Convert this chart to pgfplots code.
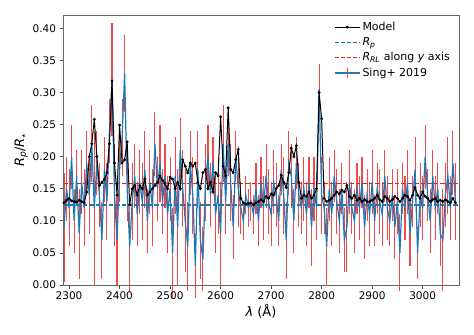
\documentclass[border=0pt]{standalone}
\usepackage{pgfplots}
\pgfplotsset{compat=1.18}
\usepackage{pgfplotstable}
\usepackage{fontspec}
\setmainfont{DejaVu Sans}
\definecolor{cblue}{RGB}{31,119,180}
\definecolor{rlred}{RGB}{228,30,32}
\definecolor{ered}{RGB}{242,74,74}
\pgfplotsset{
  singleg/.style={legend image code/.code={
    \draw[cblue, line width=1.4pt] (0pt,0pt) -- (25pt,0pt);
    \draw[ered, line width=1.4pt] (12.5pt,-5pt) -- (12.5pt,5pt);}},
  rpleg/.style={legend image code/.code={
    \draw[cblue, line width=1.4pt, dash pattern=on 4pt off 2pt] (0pt,0pt) -- (25pt,0pt);}},
  rlleg/.style={legend image code/.code={
    \draw[rlred, line width=1.4pt, dash pattern=on 4pt off 2pt] (0pt,0pt) -- (25pt,0pt);}},
}
\pgfplotstableread{
x m d e
2290 0.128 0.09 0.085
2295 0.132 0.15 0.05
2300 0.135 0.12 0.06
2305 0.131 0.20 0.05
2310 0.130 0.10 0.05
2315 0.129 0.17 0.04
2320 0.132 0.08 0.07
2325 0.130 0.16 0.05
2330 0.128 0.12 0.06
2335 0.145 0.19 0.05
2340 0.200 0.14 0.06
2345 0.220 0.22 0.06
2350 0.258 0.12 0.12
2355 0.200 0.19 0.05
2360 0.155 0.14 0.05
2365 0.160 0.07 0.06
2370 0.165 0.18 0.05
2375 0.175 0.13 0.06
2380 0.220 0.24 0.05
2385 0.318 0.32 0.088
2390 0.190 0.14 0.08
2395 0.140 0.07 0.07
2400 0.249 0.18 0.05
2405 0.190 0.23 0.06
2410 0.195 0.33 0.06
2415 0.223 0.15 0.05
2420 0.125 0.06 0.07
2425 0.150 0.13 0.06
2430 0.155 0.17 0.05
2435 0.140 0.11 0.05
2440 0.155 0.16 0.05
2445 0.150 0.13 0.06
2450 0.165 0.18 0.06
2455 0.140 0.10 0.05
2460 0.145 0.16 0.05
2465 0.150 0.12 0.06
2470 0.155 0.22 0.05
2475 0.160 0.15 0.05
2480 0.170 0.19 0.06
2485 0.163 0.13 0.05
2490 0.158 0.17 0.05
2495 0.150 0.11 0.06
2500 0.168 0.15 0.05
2505 0.165 0.05 0.07
2510 0.150 0.17 0.06
2515 0.160 0.09 0.09
2520 0.150 0.21 0.05
2525 0.195 0.15 0.06
2530 0.185 0.10 0.08
2535 0.175 0.06 0.07
2540 0.190 0.19 0.05
2545 0.185 0.14 0.06
2550 0.190 0.03 0.05
2555 0.160 0.18 0.06
2560 0.150 0.07 0.06
2565 0.175 0.04 0.05
2570 0.180 0.16 0.06
2575 0.150 0.20 0.05
2580 0.160 0.14 0.05
2585 0.145 0.19 0.04
2590 0.175 0.11 0.06
2595 0.170 0.14 0.06
2600 0.262 0.08 0.08
2605 0.185 0.22 0.06
2610 0.170 0.13 0.05
2615 0.276 0.22 0.05
2620 0.180 0.16 0.06
2625 0.175 0.09 0.05
2630 0.195 0.20 0.04
2635 0.211 0.15 0.06
2640 0.135 0.12 0.04
2645 0.128 0.10 0.03
2650 0.126 0.14 0.03
2655 0.127 0.12 0.03
2660 0.128 0.13 0.03
2665 0.125 0.11 0.03
2670 0.128 0.15 0.04
2675 0.130 0.10 0.04
2680 0.133 0.16 0.04
2685 0.130 0.12 0.05
2690 0.138 0.17 0.05
2695 0.135 0.13 0.05
2700 0.142 0.11 0.05
2705 0.140 0.16 0.05
2710 0.150 0.14 0.05
2715 0.155 0.10 0.04
2720 0.171 0.18 0.04
2725 0.160 0.14 0.06
2730 0.152 0.07 0.06
2735 0.175 0.19 0.05
2740 0.213 0.17 0.05
2745 0.200 0.10 0.05
2750 0.217 0.19 0.04
2755 0.160 0.14 0.05
2760 0.135 0.12 0.04
2765 0.140 0.15 0.05
2770 0.138 0.11 0.05
2775 0.145 0.16 0.04
2780 0.135 0.09 0.06
2785 0.140 0.15 0.05
2790 0.150 0.12 0.05
2795 0.300 0.305 0.04
2800 0.259 0.14 0.06
2805 0.135 0.12 0.04
2810 0.130 0.06 0.06
2815 0.132 0.15 0.05
2820 0.135 0.11 0.05
2825 0.140 0.17 0.04
2830 0.145 0.13 0.05
2835 0.142 0.10 0.05
2840 0.148 0.15 0.04
2845 0.145 0.07 0.05
2850 0.155 0.09 0.07
2855 0.138 0.16 0.05
2860 0.135 0.12 0.04
2865 0.140 0.10 0.05
2870 0.132 0.15 0.04
2875 0.135 0.12 0.05
2880 0.130 0.16 0.04
2885 0.133 0.09 0.05
2890 0.130 0.14 0.04
2895 0.130 0.11 0.05
2900 0.132 0.16 0.05
2905 0.135 0.10 0.04
2910 0.140 0.15 0.04
2915 0.133 0.13 0.05
2920 0.130 0.11 0.05
2925 0.138 0.17 0.04
2930 0.135 0.12 0.05
2935 0.130 0.10 0.04
2940 0.133 0.14 0.04
2945 0.138 0.09 0.05
2950 0.135 0.13 0.05
2955 0.130 0.05 0.06
2960 0.135 0.15 0.04
2965 0.140 0.12 0.05
2970 0.138 0.16 0.05
2975 0.132 0.08 0.05
2980 0.140 0.13 0.04
2985 0.152 0.18 0.05
2990 0.140 0.05 0.04
2995 0.135 0.14 0.05
3000 0.145 0.12 0.05
3005 0.138 0.20 0.05
3010 0.135 0.14 0.04
3015 0.130 0.10 0.05
3020 0.133 0.17 0.04
3025 0.135 0.12 0.05
3030 0.130 0.15 0.04
3035 0.132 0.08 0.05
3040 0.130 0.07 0.08
3045 0.133 0.14 0.05
3050 0.130 0.17 0.06
3055 0.128 0.12 0.05
3060 0.135 0.19 0.05
3065 0.128 0.13 0.06
}\spec
\begin{document}
\begin{tikzpicture}
\begin{axis}[
  name=ax,
  set layers,
  scale only axis,
  width=396pt, height=270pt,
  xmin=2288, xmax=3072,
  ymin=0, ymax=0.4206,
  xtick={2300,2400,...,3000},
  ytick={0,0.05,...,0.41},
  tick align=outside,
  xtick pos=bottom, ytick pos=left,
  major tick length=3.5pt,
  every tick/.style={black!70, line width=0.8pt},
  axis line style={black!60, line width=0.8pt},
  /pgf/number format/assume math mode=true,
  /pgf/number format/1000 sep={},
  yticklabel style={/pgf/number format/fixed, /pgf/number format/fixed zerofill, /pgf/number format/precision=2},
  tick label style={font=\fontsize{10.5}{12}\selectfont},
  label style={font=\fontsize{13}{15}\selectfont},
  xlabel={{\itshape λ} (Å)},
  ylabel={{\itshape R}\textsubscript{\itshape p}/{\itshape R}\textsubscript{$\star$}},
  xlabel style={yshift=2pt},
  ylabel style={yshift=-2pt},
  legend style={draw=none, fill=none, at={(1,1)}, anchor=north east, xshift=-4pt, yshift=-3pt,
    font=\fontsize{11}{13}\selectfont, row sep=1.5pt, cells={anchor=west}},
  legend cell align=left,
  legend image code/.code={\draw[mark repeat=2, mark phase=2, #1] plot coordinates {(0pt,0pt) (12.5pt,0pt) (25pt,0pt)};},
]
\addplot[black, line width=1pt, mark=*, mark size=0.9pt, on layer=axis foreground] table[x=x, y=m] {\spec};
\addlegendentry{Model}
\addplot[cblue, line width=1.2pt, dash pattern=on 4.5pt off 2pt, rpleg] coordinates {(2288,0.1246) (3072,0.1246)};
\addlegendentry{{\itshape R}\textsubscript{\itshape p}}
\addplot[rlred, line width=1.2pt, dash pattern=on 4.5pt off 2pt, rlleg] coordinates {(2288,0.158) (3072,0.158)};
\addlegendentry{{\itshape R}\textsubscript{\itshape RL} along {\itshape y} axis}
\addplot[forget plot, draw=none, no marks, on layer=axis background,
  error bars/.cd, y dir=both, y explicit, error mark=none,
  error bar style={ered, line width=1.1pt, solid}]
  table[x=x, y=d, y error=e] {\spec};
\addplot[cblue, line width=1.2pt, no marks, singleg] table[x=x, y=d] {\spec};
\addlegendentry{Sing+ 2019}
\end{axis}
\pgfresetboundingbox
\path[use as bounding box] ([xshift=-63pt,yshift=-49pt]ax.south west) rectangle ([xshift=15pt,yshift=15pt]ax.north east);
\end{tikzpicture}
\end{document}
